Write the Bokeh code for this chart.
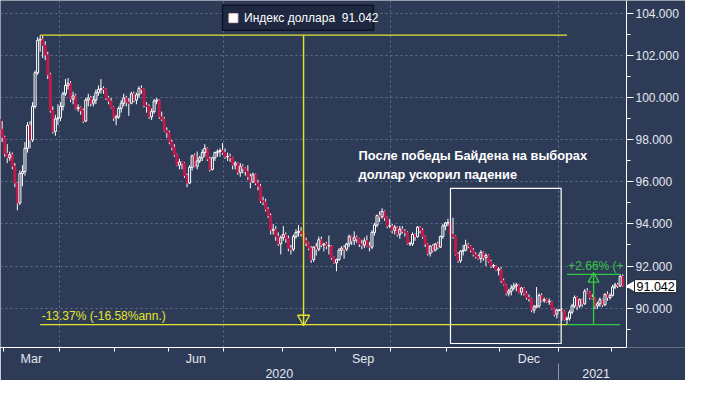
import numpy as np
import pandas as pd
from bokeh.plotting import figure
from bokeh.models import Range1d, FixedTicker, LinearAxis, NumeralTickFormatter, Label
from bokeh.core.properties import value
from bokeh.embed import file_html
from bokeh.resources import INLINE

# ---------------- data (DXY daily candles) ----------------
start_date = "2020-02-27"
end_date = "2021-02-05"
series_name = "Индекс доллара"

open_ = [
    99.00, 98.50,
    # Mar
    98.13, 97.36, 97.15, 97.30, 96.75, 95.95, 95.00, 96.40, 96.50, 97.60, 98.70, 98.00, 99.60, 101.20,
    102.75, 102.80, 102.50, 102.05, 101.10, 99.40, 98.40, 99.00,
    # Apr
    99.05, 99.60, 100.20, 100.60, 100.70, 99.95, 100.10, 99.50, 99.55, 99.40, 98.90, 99.90, 100.00, 99.75,
    99.90, 100.25, 100.40, 100.45, 100.40, 100.00, 99.85, 99.55,
    # May
    99.05, 99.10, 99.50, 99.75, 100.00, 99.80, 99.75, 100.20, 99.90, 100.15, 100.45, 100.40, 99.65, 99.60,
    99.10, 99.35, 99.85, 99.90, 99.10, 99.00, 98.45,
    # Jun
    98.35, 97.90, 97.65, 97.30, 96.80, 96.95, 96.90, 96.30, 95.95, 96.70, 97.25, 96.75, 97.00, 97.15,
    97.40, 97.60, 97.10, 96.60, 97.15, 97.40, 97.45, 97.50,
    # Jul
    97.40, 97.20, 97.20, 97.15, 96.80, 96.90, 96.45, 96.75, 96.65, 96.50, 96.25, 96.00, 96.35, 95.95,
    95.80, 95.10, 95.05, 94.70, 94.40, 93.70, 93.75, 93.40, 93.05,
    # Aug
    93.35, 93.50, 93.30, 92.85, 92.80, 93.40, 93.60, 93.65, 93.55, 93.20, 93.10, 92.85, 92.30, 92.90,
    92.80, 93.25, 93.00, 93.05, 92.95, 92.95, 92.40,
    # Sep
    92.15, 92.30, 92.75, 92.85, 92.80, 93.05, 93.40, 93.20, 93.35, 93.30, 93.05, 93.00, 93.20, 92.95,
    92.90, 93.60, 93.95, 94.40, 94.35, 94.60, 94.30, 93.90,
    # Oct
    93.90, 93.70, 93.85, 93.50, 93.75, 93.65, 93.60, 93.05, 93.05, 93.50, 93.40, 93.85, 93.70, 93.40,
    93.05, 92.60, 92.95, 92.75, 93.05, 92.90, 93.40, 93.90,
    # Nov
    94.05, 94.05, 93.50, 93.40, 92.55, 92.25, 92.70, 92.75, 93.00, 92.95, 92.75, 92.55, 92.45, 92.35,
    92.65, 92.40, 92.50, 92.20, 92.00, 92.00, 91.80,
    # Dec
    91.85, 91.30, 91.10, 90.70, 90.80, 90.95, 91.05, 91.10, 90.75, 90.95, 90.70, 90.50, 90.45, 89.90,
    90.05, 90.10, 90.60, 90.35, 90.40, 90.30, 90.30, 89.95, 89.70,
    # Jan 2021
    89.90, 89.90, 89.85, 89.45, 89.50, 89.80, 90.10, 90.50, 90.10, 90.40, 90.20, 90.80, 90.75, 90.50,
    90.45, 90.10, 90.20, 90.40, 90.15, 90.65, 90.50,
    # Feb 2021
    90.60, 91.00, 91.10, 91.05, 91.50,
]
high = [
    99.10, 98.90,
    98.20, 97.80, 97.45, 97.40, 96.90, 96.00, 96.55, 96.80, 97.90, 98.85, 98.90, 99.80, 101.30, 102.90,
    102.99, 102.95, 102.70, 102.20, 101.20, 99.60, 99.20, 99.70,
    99.80, 100.30, 100.90, 100.95, 100.80, 100.30, 100.20, 99.70, 99.60, 99.50, 100.00, 100.20, 100.10, 100.10,
    100.40, 100.60, 100.90, 100.55, 100.45, 100.10, 100.00, 99.60,
    99.20, 99.60, 99.90, 100.20, 100.10, 100.00, 100.30, 100.30, 100.25, 100.56, 100.60, 100.45, 99.80, 99.70,
    99.50, 99.95, 100.00, 99.95, 99.35, 99.10, 98.60,
    98.45, 98.00, 97.80, 97.35, 97.10, 97.00, 96.95, 96.40, 96.80, 97.30, 97.35, 97.45, 97.25, 97.55,
    97.80, 97.65, 97.20, 97.20, 97.45, 97.55, 97.60, 97.85,
    97.60, 97.40, 97.35, 97.20, 97.00, 96.95, 96.90, 96.85, 96.70, 96.80, 96.40, 96.45, 96.40, 96.10,
    95.90, 95.30, 95.20, 94.80, 94.50, 94.00, 93.90, 93.60, 93.45,
    93.90, 93.60, 93.45, 93.00, 93.50, 93.75, 93.95, 93.85, 93.60, 93.35, 93.15, 92.95, 92.95, 93.10,
    93.40, 93.40, 93.10, 93.15, 93.45, 93.00, 92.45,
    92.35, 92.85, 92.95, 93.00, 93.10, 93.50, 93.45, 93.65, 93.45, 93.35, 93.25, 93.35, 93.45, 93.15,
    93.70, 94.05, 94.45, 94.60, 94.75, 94.65, 94.35, 94.25,
    94.00, 93.95, 93.90, 93.90, 93.90, 93.75, 93.65, 93.15, 93.60, 93.55, 93.90, 93.90, 93.80, 93.45,
    93.10, 93.00, 93.05, 93.10, 93.15, 93.45, 94.00, 94.10,
    94.25, 94.15, 94.30, 93.45, 92.65, 92.75, 93.00, 93.25, 93.10, 93.00, 92.85, 92.65, 92.55, 92.75,
    92.70, 92.60, 92.55, 92.30, 92.10, 92.05, 91.95,
    91.95, 91.40, 91.15, 90.90, 91.10, 91.20, 91.20, 91.15, 91.00, 91.00, 90.80, 90.65, 90.50, 90.15,
    91.00, 90.70, 90.70, 90.50, 90.45, 90.45, 90.35, 90.00, 89.95,
    89.95, 90.00, 89.90, 89.60, 89.90, 90.20, 90.60, 90.55, 90.45, 90.45, 90.90, 90.95, 90.80, 90.65,
    90.50, 90.30, 90.50, 90.45, 90.70, 90.80, 90.70,
    91.10, 91.20, 91.20, 91.60, 91.60,
]
low = [
    98.40, 97.90,
    97.20, 96.90, 97.00, 96.60, 95.75, 94.65, 94.90, 95.80, 96.30, 97.40, 97.60, 97.90, 99.50, 101.10,
    102.20, 101.90, 101.80, 100.90, 99.30, 98.30, 98.20, 98.70,
    98.90, 99.40, 100.10, 100.40, 99.80, 99.70, 99.45, 99.35, 99.20, 98.80, 98.85, 99.60, 99.60, 99.60,
    99.70, 100.10, 100.20, 100.20, 99.90, 99.70, 99.50, 98.90,
    98.70, 99.00, 99.30, 99.60, 99.60, 99.15, 99.70, 99.80, 99.70, 100.00, 100.20, 99.55, 99.30, 99.00,
    98.95, 99.25, 99.70, 99.00, 98.90, 98.40, 98.10,
    97.80, 97.50, 97.20, 96.75, 96.60, 96.60, 96.20, 95.75, 95.90, 96.55, 96.70, 96.60, 96.90, 97.00,
    97.20, 97.00, 96.50, 96.55, 97.00, 97.20, 97.20, 97.30,
    97.10, 97.00, 96.95, 96.60, 96.60, 96.35, 96.25, 96.40, 96.30, 96.10, 95.70, 95.95, 95.85, 95.60,
    95.00, 94.90, 94.60, 94.30, 93.50, 93.50, 93.20, 92.95, 92.55,
    93.20, 93.10, 92.70, 92.55, 92.70, 93.30, 93.40, 93.40, 93.10, 92.95, 92.75, 92.15, 92.20, 92.50,
    92.70, 92.90, 92.70, 92.80, 92.55, 92.30, 92.10,
    91.75, 92.25, 92.50, 92.35, 92.70, 92.90, 93.00, 93.00, 93.10, 92.90, 92.80, 92.85, 92.90, 92.70,
    92.80, 93.45, 93.85, 94.10, 94.25, 94.15, 93.80, 93.80,
    93.55, 93.50, 93.40, 93.30, 93.55, 93.40, 93.00, 92.95, 92.95, 93.20, 93.35, 93.55, 93.30, 92.90,
    92.50, 92.45, 92.65, 92.70, 92.80, 92.85, 93.30, 93.70,
    93.90, 93.45, 93.30, 92.50, 92.15, 92.15, 92.50, 92.70, 92.85, 92.65, 92.45, 92.35, 92.30, 92.15,
    92.25, 92.00, 92.15, 91.90, 91.90, 91.75, 91.55,
    91.20, 91.05, 90.60, 90.55, 90.60, 90.85, 90.80, 90.70, 90.60, 90.60, 90.40, 90.30, 89.80, 89.75,
    90.00, 90.00, 90.30, 90.25, 90.25, 90.15, 89.90, 89.60, 89.50,
    89.85, 89.40, 89.40, 89.21, 89.40, 89.70, 90.00, 89.90, 90.00, 90.05, 90.15, 90.70, 90.40, 90.40,
    89.95, 89.95, 90.05, 90.05, 90.10, 90.35, 90.40,
    90.55, 90.90, 90.95, 91.00, 91.00,
]
close = [
    98.50, 98.13,
    97.36, 97.15, 97.30, 96.75, 95.95, 95.00, 96.40, 96.50, 97.60, 98.70, 98.00, 99.60, 101.20, 102.75,
    102.80, 102.50, 102.05, 101.10, 99.40, 98.40, 99.00, 99.05,
    99.60, 100.20, 100.60, 100.70, 99.95, 100.10, 99.50, 99.55, 99.40, 98.90, 99.90, 100.00, 99.75, 99.90,
    100.25, 100.40, 100.45, 100.40, 100.00, 99.85, 99.55, 99.05,
    99.10, 99.50, 99.75, 100.00, 99.80, 99.75, 100.20, 99.90, 100.15, 100.45, 100.40, 99.65, 99.60, 99.10,
    99.35, 99.85, 99.90, 99.10, 99.00, 98.45, 98.35,
    97.90, 97.65, 97.30, 96.80, 96.95, 96.90, 96.30, 95.95, 96.70, 97.25, 96.75, 97.00, 97.15, 97.40,
    97.60, 97.10, 96.60, 97.15, 97.40, 97.45, 97.50, 97.40,
    97.20, 97.20, 97.15, 96.80, 96.90, 96.45, 96.75, 96.65, 96.50, 96.25, 96.00, 96.35, 95.95, 95.80,
    95.10, 95.05, 94.70, 94.40, 93.70, 93.75, 93.40, 93.05, 93.35,
    93.50, 93.30, 92.85, 92.80, 93.40, 93.60, 93.65, 93.55, 93.20, 93.10, 92.85, 92.30, 92.90, 92.80,
    93.25, 93.00, 93.05, 92.95, 92.95, 92.40, 92.15,
    92.30, 92.75, 92.85, 92.80, 93.05, 93.40, 93.20, 93.35, 93.30, 93.05, 93.00, 93.20, 92.95, 92.90,
    93.60, 93.95, 94.40, 94.35, 94.60, 94.30, 93.90, 93.90,
    93.70, 93.85, 93.50, 93.75, 93.65, 93.60, 93.05, 93.05, 93.50, 93.40, 93.85, 93.70, 93.40, 93.05,
    92.60, 92.95, 92.75, 93.05, 92.90, 93.40, 93.90, 94.05,
    94.05, 93.50, 93.40, 92.55, 92.25, 92.70, 92.75, 93.00, 92.95, 92.75, 92.55, 92.45, 92.35, 92.65,
    92.40, 92.50, 92.20, 92.00, 92.00, 91.80, 91.85,
    91.30, 91.10, 90.70, 90.80, 90.95, 91.05, 91.10, 90.75, 90.95, 90.70, 90.50, 90.45, 89.90, 90.05,
    90.10, 90.60, 90.35, 90.40, 90.30, 90.30, 89.95, 89.70, 89.90,
    89.90, 89.85, 89.45, 89.50, 89.80, 90.10, 90.50, 90.10, 90.40, 90.20, 90.80, 90.75, 90.50, 90.45,
    90.10, 90.20, 90.40, 90.15, 90.65, 90.50, 90.60,
    91.00, 91.10, 91.05, 91.50, 91.042,
]

y_major = [90, 92, 94, 96, 98, 100, 102, 104]
y_minor = [89, 91, 93, 95, 97, 99, 101, 103]
labelled_months = [3, 6, 9, 12]
measure_text = "-13.37% (-16.58%ann.)"
rebound_text = "+2.66% (+"
note_lines = ["После победы Байдена на выборах", "доллар ускорил падение"]

# ---------------- derived positions ----------------
dates = pd.bdate_range(start_date, end_date)
o = np.array(open_); h = np.array(high); l = np.array(low); c = np.array(close)
x = np.arange(len(dates), dtype=float)

FIG_W, FIG_H = 685, 380
CHART_W = 626                      # width of the candle area in px (rest is the price scale)
X_START, X_END = 0.34, 247.5       # visible trading-day span of the candle area
Y_MIN, Y_MAX = 88.12, 104.64
PPX = CHART_W / (X_END - X_START)
X_RANGE_END = X_END + (FIG_W - CHART_W) / PPX

months = dates.month.values
years = dates.year.values
bounds = [i - 0.5 for i in range(1, len(dates)) if months[i] != months[i - 1]]
quarter_bounds = [i - 0.5 for i in range(1, len(dates))
                  if months[i] != months[i - 1] and months[i] in (1, 4, 7, 10)]
month_ticks, month_labels = [], {}
for (yy, mm) in sorted(set(zip(years, months))):
    if mm in labelled_months:
        idx = np.where((years == yy) & (months == mm))[0]
        pos = round((idx[0] + idx[-1]) / 2.0, 2)
        month_ticks.append(pos)
        month_labels[pos] = dates[idx[0]].strftime("%b")
year_bound = [i - 0.5 for i in range(1, len(dates)) if years[i] != years[i - 1]][0]
y2020 = round((X_START + year_bound) / 2.0, 2)
y2021 = round((year_bound + X_END) / 2.0 + 1.5, 2)

i_top = int(np.argmax(h)); i_bot = int(np.argmin(l)); i_reb = int(np.argmax(h[i_bot:])) + i_bot
top_v, bot_v, reb_v = h[i_top], l[i_bot], h[i_reb]

BG = "#2e3b57"
RED = "#be1a4c"
YEL = "#e4e62c"
GRN = "#35c843"
FONT = "Liberation Sans"
TXT = "#e3e7ee"
GRID = "#62738f"

p = figure(width=FIG_W, height=FIG_H, output_backend="svg", toolbar_location=None,
           x_range=Range1d(X_START, X_RANGE_END), y_range=Range1d(Y_MIN, Y_MAX),
           y_axis_location="right", min_border_left=0, min_border_top=0,
           min_border_right=0, min_border_bottom=0)
p.background_fill_color = BG
p.border_fill_color = BG
p.outline_line_color = None

# y axis, drawn at the right edge of the candle area
yax = p.yaxis[0]
yax.fixed_location = X_END
yax.ticker = FixedTicker(ticks=y_major, minor_ticks=y_minor)
yax.formatter = NumeralTickFormatter(format="0.000")
yax.axis_line_color = "white"
yax.major_tick_line_color = "white"
yax.minor_tick_line_color = "white"
yax.major_tick_out = 7; yax.major_tick_in = 0
yax.minor_tick_out = 4; yax.minor_tick_in = 0
yax.major_label_text_color = TXT
yax.major_label_text_font = FONT
yax.major_label_text_font_size = "12px"
yax.major_label_standoff = 2

# x axis (months)
xax = p.xaxis[0]
xax.bounds = (X_START, X_END)
xax.ticker = FixedTicker(ticks=month_ticks, minor_ticks=bounds)
xax.major_label_overrides = month_labels
xax.axis_line_color = "white"
xax.major_tick_line_color = None
xax.major_tick_out = 0; xax.major_tick_in = 0
xax.minor_tick_line_color = "white"
xax.minor_tick_out = 4; xax.minor_tick_in = 0
xax.major_label_text_color = TXT
xax.major_label_text_font = FONT
xax.major_label_text_font_size = "12.5px"
xax.major_label_standoff = 0

# x axis (years)
ax2 = LinearAxis(ticker=FixedTicker(ticks=[y2020, y2021], minor_ticks=[]),
                 major_label_overrides={y2020: "2020", y2021: "2021"})
ax2.axis_line_color = None
ax2.major_tick_line_color = None
ax2.minor_tick_line_color = None
ax2.major_tick_out = 0; ax2.major_tick_in = 0
ax2.minor_tick_out = 0; ax2.minor_tick_in = 0
ax2.major_label_text_color = TXT
ax2.major_label_text_font = FONT
ax2.major_label_text_font_size = "12.5px"
ax2.major_label_standoff = 0
p.add_layout(ax2, "below")

# year separator (tick pointing up from the bottom edge)
ax3 = LinearAxis(ticker=FixedTicker(ticks=[], minor_ticks=[year_bound]))
ax3.axis_line_color = None
ax3.major_tick_line_color = None
ax3.major_tick_out = 0; ax3.major_tick_in = 0
ax3.minor_tick_line_color = "#8e97aa"
ax3.minor_tick_out = 0; ax3.minor_tick_in = 17
ax3.major_label_standoff = 0
ax3.major_label_text_font_size = "1px"
p.add_layout(ax3, "below")

# grids
p.ygrid[0].ticker = FixedTicker(ticks=y_major)
p.xgrid[0].ticker = FixedTicker(ticks=quarter_bounds)
for g in (p.xgrid[0], p.ygrid[0]):
    g.grid_line_color = GRID
    g.grid_line_dash = "2 3"
    g.grid_line_width = 1
try:
    p.ygrid[0].cross_bounds = (X_START, X_END)
except Exception:
    pass

# candles
up = c >= o
dn = ~up
p.segment(x0=x, y0=l, x1=x, y1=h, line_color="white", line_width=1)
p.vbar(x=x[dn], width=0.8, top=o[dn], bottom=c[dn], fill_color=RED, line_color=RED, line_width=1)
p.vbar(x=x[up], width=0.8, top=np.maximum(c[up], o[up] + 0.02), bottom=o[up],
       fill_color=BG, line_color="white", line_width=1)

# measurement (yellow)
p.segment(x0=[x[i_top], x[i_top]], y0=[top_v, bot_v], x1=[224, 224], y1=[top_v, bot_v],
          line_color=YEL, line_width=1.4)
mid1 = (x[i_top] + x[i_bot]) / 2.0
p.segment(x0=[mid1], y0=[top_v], x1=[mid1], y1=[bot_v], line_color=YEL, line_width=1.4)
p.scatter(x=[mid1], y=[bot_v + 0.28], marker="inverted_triangle", size=12,
          fill_color=None, line_color=YEL, line_width=1.3)
p.text(x=[x[i_top] + 0.6], y=[bot_v + 0.08], text=[measure_text], text_color=YEL,
       text_font=value(FONT), text_font_size="12px", text_baseline="bottom", text_align="left")

# rebound (green)
p.segment(x0=[x[i_bot], x[i_bot]], y0=[bot_v, reb_v], x1=[x[i_reb], x[i_reb]], y1=[bot_v, reb_v],
          line_color=GRN, line_width=1.4)
mid2 = (x[i_bot] + x[i_reb]) / 2.0
p.segment(x0=[mid2], y0=[bot_v], x1=[mid2], y1=[reb_v], line_color=GRN, line_width=1.4)
p.scatter(x=[mid2], y=[reb_v - 0.22], marker="triangle", size=11,
          fill_color=None, line_color=GRN, line_width=1.3)
p.text(x=[x[i_bot] + 0.5], y=[reb_v + 0.06], text=[rebound_text], text_color=GRN,
       text_font=value(FONT), text_font_size="12px", text_baseline="bottom", text_align="left")

# post-election box and note
p.quad(left=[178.0], right=[221.7], top=[95.70], bottom=[88.31], fill_color=None,
       line_color="white", line_width=1.2)
p.text(x=[141.7, 141.7], y=[97.26, 96.34], text=note_lines, text_color="white",
       text_font=value(FONT), text_font_style="bold", text_font_size="12.8px",
       text_baseline="middle", text_align="left")

# legend box
p.quad(left=[88.0], right=[147.6], top=[104.41], bottom=[103.22], fill_color="#1e2840",
       line_color="#0d1322", line_width=1.5)
p.scatter(x=[92.3], y=[103.80], marker="square", size=9, fill_color="white",
          line_color="#f0c8d4", line_width=1)
p.text(x=[96.5], y=[103.80], text=[f"{series_name}\u00a0\u00a0{close[-1]:.3f}"], text_color="white",
       text_font=value(FONT), text_font_size="12px", text_baseline="middle", text_align="left")

# last price tag on the price scale
p.scatter(x=[X_END + 5.0 / PPX], y=[close[-1]], marker="triangle", angle=np.pi / 2, size=9,
          fill_color="white", line_color="white")
p.add_layout(Label(x=X_END, y=close[-1], x_offset=8, text=f"{close[-1]:.3f}",
                   text_font=FONT, text_font_size="12.5px", text_color="black",
                   text_baseline="middle", text_align="left",
                   background_fill_color="white", border_line_color="#222222", padding=2))

open("out.html", "w").write(file_html(p, INLINE))
